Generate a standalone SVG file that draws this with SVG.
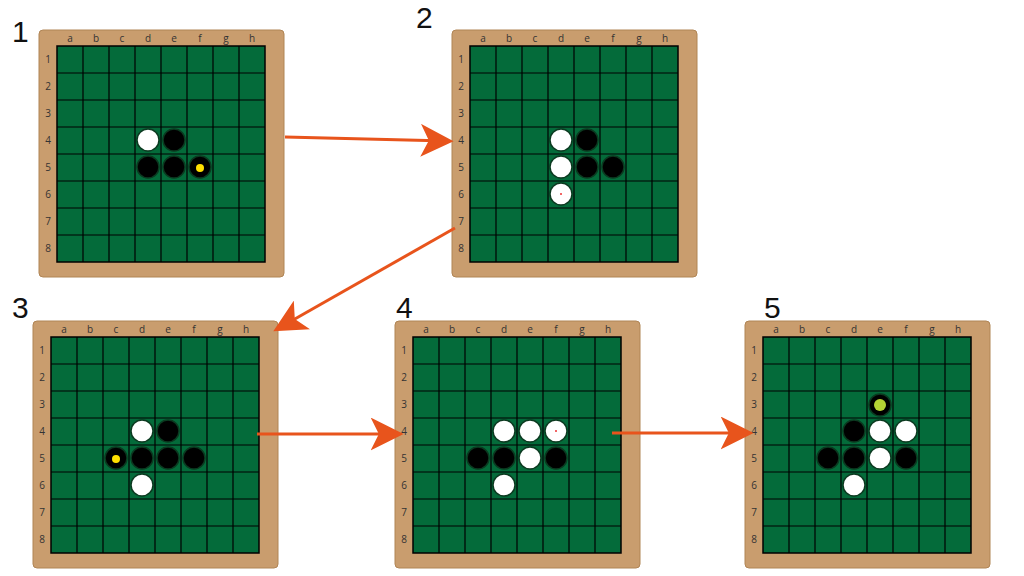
<svg xmlns="http://www.w3.org/2000/svg" xmlns:xlink="http://www.w3.org/1999/xlink" width="1024" height="576" viewBox="0 0 1024 576">
<style>
.num{font-family:"Liberation Sans",Arial,sans-serif;font-size:30px;fill:#111}
.lb{font-family:"Open Sans","Liberation Sans",sans-serif;font-size:10px;fill:#333;text-anchor:middle}
.w{fill:#fff;stroke:#0b3a20;stroke-width:1.5}
.b{fill:#000;stroke:#0b3a20;stroke-width:1.5}
.arr{stroke:#e8541c;stroke-width:3;fill:none}
</style>
<defs>
<marker id="ah" viewBox="0 0 10 10" refX="8" refY="5" markerWidth="9" markerHeight="9" markerUnits="userSpaceOnUse" orient="auto"><path d="M0,0 L10,5 L0,10 L2,5Z" fill="#e8541c"/></marker>
<marker id="ahb" viewBox="0 0 10 10" refX="8" refY="5" markerWidth="11" markerHeight="11" orient="auto"><path d="M0,0 L10,5 L0,10 L2.5,5Z" fill="#e8541c"/></marker>
<g id="board">
<rect x="0" y="0" width="245" height="247" rx="4" fill="#c99d6e" stroke="#b08555"/>
<rect x="18" y="16" width="208" height="216" fill="#046b3a" stroke="#000" stroke-width="1.5"/>
<path d="M44,16V232M70,16V232M96,16V232M122,16V232M148,16V232M174,16V232M200,16V232M18,43H226M18,70H226M18,97H226M18,124H226M18,151H226M18,178H226M18,205H226" stroke="#000" stroke-width="1.2"/>
<text class="lb" y="12"><tspan x="31">a</tspan><tspan x="57">b</tspan><tspan x="83">c</tspan><tspan x="109">d</tspan><tspan x="135">e</tspan><tspan x="161">f</tspan><tspan x="187">g</tspan><tspan x="213">h</tspan></text>
<text class="lb" x="9" y="33">1</text><text class="lb" x="9" y="60">2</text><text class="lb" x="9" y="87">3</text><text class="lb" x="9" y="114">4</text><text class="lb" x="9" y="141">5</text><text class="lb" x="9" y="168">6</text><text class="lb" x="9" y="195">7</text><text class="lb" x="9" y="222">8</text>
</g>
</defs>
<text class="num" x="12" y="42">1</text>
<text class="num" x="416" y="28">2</text>
<text class="num" x="12" y="318">3</text>
<text class="num" x="396" y="318">4</text>
<text class="num" x="764" y="318">5</text>

<g id="board1" transform="translate(39,30)">
<use xlink:href="#board"/>
<circle class="w" cx="109" cy="110" r="11"/><circle class="b" cx="135" cy="110" r="11"/>
<circle class="b" cx="109" cy="137" r="11"/><circle class="b" cx="135" cy="137" r="11"/><circle class="b" cx="161" cy="137" r="11"/>
<circle cx="161" cy="138" r="4" fill="#ffe000"/>
</g>
<g id="board2" transform="translate(452,30)">
<use xlink:href="#board"/>
<circle class="w" cx="109" cy="110" r="11"/><circle class="b" cx="135" cy="110" r="11"/>
<circle class="w" cx="109" cy="137" r="11"/><circle class="b" cx="135" cy="137" r="11"/><circle class="b" cx="161" cy="137" r="11"/>
<circle class="w" cx="109" cy="164" r="11"/><circle cx="109" cy="164" r="1" fill="#e33"/>
</g>
<g id="board3" transform="translate(33,321)">
<use xlink:href="#board"/>
<circle class="w" cx="109" cy="110" r="11"/><circle class="b" cx="135" cy="110" r="11"/>
<circle class="b" cx="83" cy="137" r="11"/><circle cx="83" cy="138" r="4" fill="#ffe000"/>
<circle class="b" cx="109" cy="137" r="11"/><circle class="b" cx="135" cy="137" r="11"/><circle class="b" cx="161" cy="137" r="11"/>
<circle class="w" cx="109" cy="164" r="11"/>
</g>
<g id="board4" transform="translate(395,321)">
<use xlink:href="#board"/>
<circle class="w" cx="109" cy="110" r="11"/><circle class="w" cx="135" cy="110" r="11"/><circle class="w" cx="161" cy="110" r="11"/><circle cx="161" cy="110" r="1" fill="#e33"/>
<circle class="b" cx="83" cy="137" r="11"/><circle class="b" cx="109" cy="137" r="11"/><circle class="w" cx="135" cy="137" r="11"/><circle class="b" cx="161" cy="137" r="11"/>
<circle class="w" cx="109" cy="164" r="11"/>
</g>
<g id="board5" transform="translate(745,321)">
<use xlink:href="#board"/>
<circle class="b" cx="135" cy="84" r="11"/><circle cx="135" cy="84" r="6" fill="#b5d334"/>
<circle class="b" cx="109" cy="110" r="11"/><circle class="w" cx="135" cy="110" r="11"/><circle class="w" cx="161" cy="110" r="11"/>
<circle class="b" cx="83" cy="137" r="11"/><circle class="b" cx="109" cy="137" r="11"/><circle class="w" cx="135" cy="137" r="11"/><circle class="b" cx="161" cy="137" r="11"/>
<circle class="w" cx="109" cy="164" r="11"/>
</g>
<g id="connectors">
<line class="arr" x1="285" y1="137" x2="447" y2="141" marker-end="url(#ahb)"/>
<line class="arr" x1="455" y1="228" x2="279" y2="328" marker-end="url(#ahb)"/>
<line class="arr" x1="257" y1="434" x2="397" y2="434" marker-end="url(#ahb)"/>
<line class="arr" x1="612" y1="433" x2="747" y2="433" marker-end="url(#ahb)"/>
</g>
</svg>
